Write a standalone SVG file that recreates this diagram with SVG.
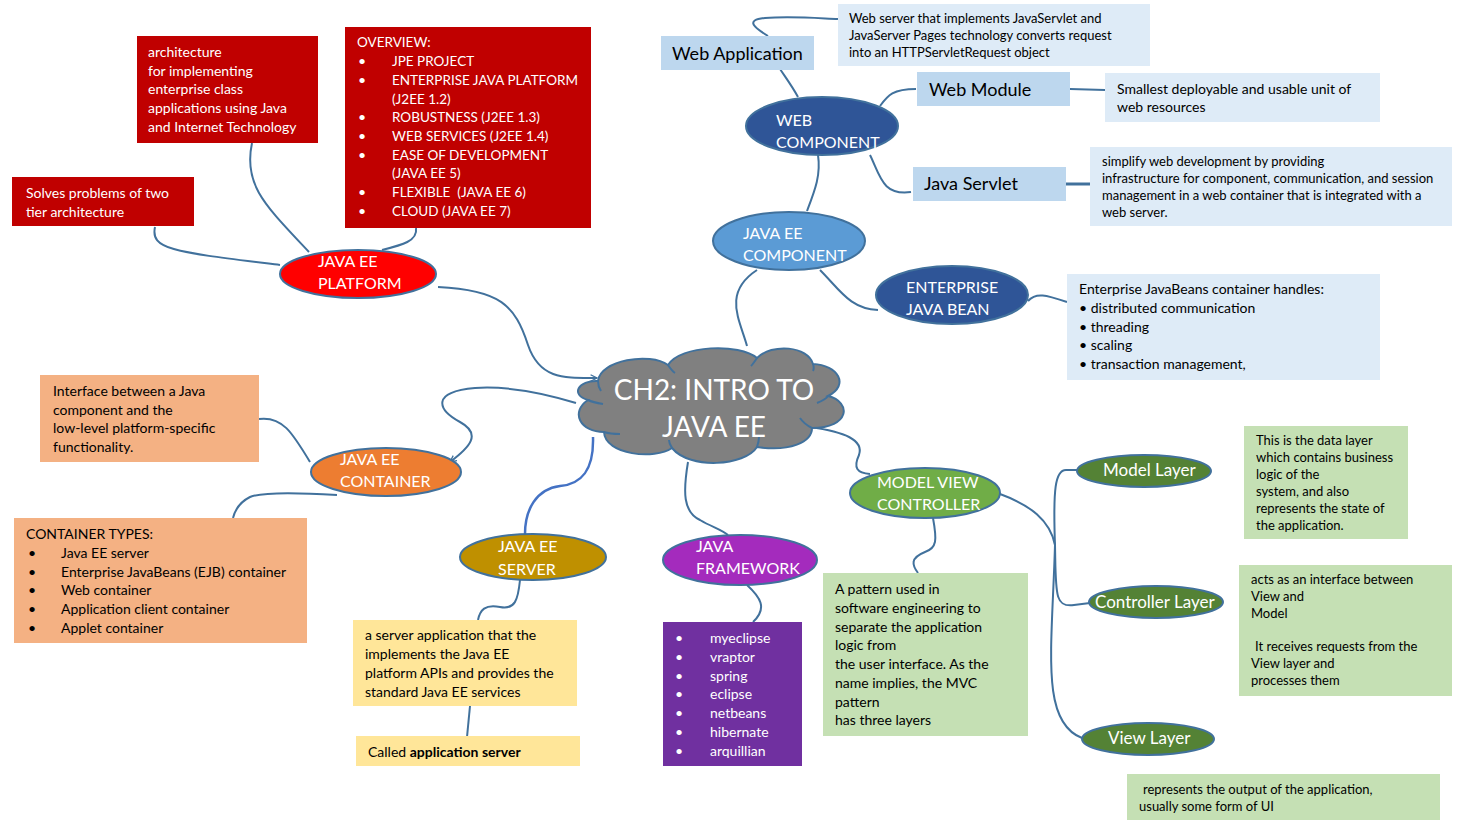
<svg xmlns="http://www.w3.org/2000/svg" width="1457" height="833" viewBox="0 0 1457 833">
<defs>
<style>
text{font-family:Lato,"Liberation Sans",sans-serif;}
.w{fill:#ffffff}
.k{fill:#000000}
.t13{font-size:13px}
.t14{font-size:14px}
.c14{font-size:13.5px}
.t17{font-size:17px}
.e16{font-size:16px}
.t18{font-size:18px}
.ell{stroke:#41719c;stroke-width:2}
.con{fill:none;stroke:#41719c;stroke-width:2}
</style>
<marker id="arr" viewBox="0 0 10 10" refX="9" refY="5" markerWidth="8" markerHeight="8" orient="auto" markerUnits="userSpaceOnUse">
<path d="M1,1 L9,5 L1,9" fill="none" stroke="#41719c" stroke-width="1.6"/>
</marker>
</defs>
<rect width="1457" height="833" fill="#ffffff"/>

<g id="connectors">
<path class="con" d="M155,227 C150,250 175,252 280,265"/>
<path class="con" d="M252,143 C243,185 265,205 309,252"/>
<path class="con" d="M416,228 C418,241 402,245 382,250"/>
<path class="con" d="M438,287 C500,290 515,305 528,345 C540,380 565,378 597,378" marker-end="url(#arr)"/>
<path class="con" d="M576,403 C540,392 505,386 475,388 C430,392 438,410 460,422 C482,434 470,447 450,462" marker-end="url(#arr)"/>
<path class="con" d="M259,419 C282,416 292,432 310,462"/>
<path class="con" d="M337,495 C290,492 262,492 250,497 C240,502 235,510 233,518"/>
<path fill="none" stroke="#4472c4" stroke-width="2.5" d="M593,437 C594,470 582,484 560,486 C536,489 525,510 525,534"/>
<path class="con" d="M520,580 C518,600 515,610 500,607 C485,604 480,610 478,620"/>
<path class="con" d="M470,706 L467,737"/>
<path class="con" d="M688,462 C683,492 683,512 700,520 C712,527 722,530 728,535"/>
<path class="con" d="M747,585 C760,597 768,608 753,622"/>
<path class="con" d="M810,427 C845,432 864,440 859,455 C853,468 857,473 870,474"/>
<path class="con" d="M747,346 C740,320 722,293 757,270"/>
<path class="con" d="M820,270 C840,290 850,309 878,310"/>
<path class="con" d="M1028,301 C1036,292 1046,295 1067,302"/>
<path class="con" d="M807,211 C815,190 821,175 818,155"/>
<path class="con" d="M798,97 C792,86 786,78 780,69"/>
<path class="con" d="M768,36 C755,28 744,20 765,18 C790,16 815,18 838,19"/>
<path class="con" d="M880,106 C888,95 893,89 916,89"/>
<path class="con" d="M1070,89 L1105,90"/>
<path class="con" d="M870,155 C880,175 882,196 911,192"/>
<path fill="none" stroke="#41719c" stroke-width="3" d="M1066,184 L1090,184"/>
<path class="con" d="M933,518 C937,540 937,548 925,552 C910,558 912,565 918,573"/>
<path class="con" d="M1000,494 C1030,505 1050,520 1055,545"/>
<path class="con" d="M1055,545 C1053,490 1055,470 1066,470 L1078,470"/>
<path class="con" d="M1055,545 C1056,592 1054,608 1074,605 L1090,603"/>
<path class="con" d="M1055,545 C1052,650 1040,722 1082,738"/>
</g>

<g id="architecture">
<rect x="137" y="36" width="181" height="107" fill="#c00000"/>
<text class="w t14"><tspan x="148" y="57">architecture</tspan><tspan x="148" y="76">for implementing</tspan><tspan x="148" y="94">enterprise class</tspan><tspan x="148" y="113">applications using Java</tspan><tspan x="148" y="132">and Internet Technology</tspan></text>
</g>

<g id="overview">
<rect x="345" y="27" width="246" height="201" fill="#c00000"/>
<text class="w c14"><tspan x="357" y="47">OVERVIEW:</tspan></text>
<text class="w t14"><tspan x="358" y="66">•</tspan><tspan x="358" y="85">•</tspan><tspan x="358" y="122">•</tspan><tspan x="358" y="141">•</tspan><tspan x="358" y="160">•</tspan><tspan x="358" y="197">•</tspan><tspan x="358" y="216">•</tspan></text>
<text class="w c14"><tspan x="392" y="66">JPE PROJECT</tspan><tspan x="392" y="85">ENTERPRISE JAVA PLATFORM</tspan><tspan x="392" y="104">(J2EE 1.2)</tspan><tspan x="392" y="122">ROBUSTNESS (J2EE 1.3)</tspan><tspan x="392" y="141">WEB SERVICES (J2EE 1.4)</tspan><tspan x="392" y="160">EASE OF DEVELOPMENT</tspan><tspan x="392" y="178">(JAVA EE 5)</tspan><tspan x="392" y="197" xml:space="preserve">FLEXIBLE  (JAVA EE 6)</tspan><tspan x="392" y="216">CLOUD (JAVA EE 7)</tspan></text>
</g>

<g id="solves">
<rect x="12" y="177" width="182" height="49" fill="#c00000"/>
<text class="w t14"><tspan x="26" y="198">Solves problems of two</tspan><tspan x="26" y="217">tier architecture</tspan></text>
</g>

<g id="java-ee-platform">
<ellipse class="ell" cx="358" cy="274" rx="78" ry="24" fill="#ff0000"/>
<text class="w e16"><tspan x="318" y="267">JAVA EE</tspan><tspan x="318" y="289">PLATFORM</tspan></text>
</g>

<g id="web-application">
<rect x="661" y="36" width="153" height="34" fill="#bdd7ee"/>
<text class="k t18" x="672" y="60">Web Application</text>
</g>

<g id="web-server-desc">
<rect x="838" y="4" width="312" height="62" fill="#deebf7"/>
<text class="k t13"><tspan x="849" y="23">Web server that implements JavaServlet and</tspan><tspan x="849" y="40">JavaServer Pages technology converts request</tspan><tspan x="849" y="57">into an HTTPServletRequest object</tspan></text>
</g>

<g id="web-component">
<ellipse class="ell" cx="822" cy="126" rx="76" ry="29" fill="#2f5597"/>
<text class="w e16"><tspan x="776" y="126">WEB</tspan><tspan x="776" y="148">COMPONENT</tspan></text>
</g>

<g id="web-module">
<rect x="917" y="72" width="153" height="34" fill="#bdd7ee"/>
<text class="k t18" x="929" y="96">Web Module</text>
</g>

<g id="web-module-desc">
<rect x="1105" y="73" width="275" height="49" fill="#deebf7"/>
<text class="k t14"><tspan x="1117" y="94">Smallest deployable and usable unit of</tspan><tspan x="1117" y="112">web resources</tspan></text>
</g>

<g id="java-servlet">
<rect x="913" y="167" width="153" height="34" fill="#bdd7ee"/>
<text class="k t18" x="924" y="190">Java Servlet</text>
</g>

<g id="servlet-desc">
<rect x="1090" y="147" width="362" height="79" fill="#deebf7"/>
<text class="k t13"><tspan x="1102" y="166">simplify web development by providing</tspan><tspan x="1102" y="183">infrastructure for component, communication, and session</tspan><tspan x="1102" y="200">management in a web container that is integrated with a</tspan><tspan x="1102" y="217">web server.</tspan></text>
</g>

<g id="java-ee-component">
<ellipse class="ell" cx="789" cy="241" rx="76" ry="29" fill="#5b9bd5"/>
<text class="w e16"><tspan x="743" y="239">JAVA EE</tspan><tspan x="743" y="261">COMPONENT</tspan></text>
</g>

<g id="enterprise-java-bean">
<ellipse class="ell" cx="952" cy="295" rx="76" ry="29" fill="#2f5597"/>
<text class="w e16"><tspan x="906" y="293">ENTERPRISE</tspan><tspan x="906" y="315">JAVA BEAN</tspan></text>
</g>

<g id="ejb-desc">
<rect x="1067" y="274" width="313" height="106" fill="#deebf7"/>
<text class="k t14"><tspan x="1079" y="294">Enterprise JavaBeans container handles:</tspan><tspan x="1079" y="313">• distributed communication</tspan><tspan x="1079" y="332">• threading</tspan><tspan x="1079" y="350">• scaling</tspan><tspan x="1079" y="369">• transaction management,</tspan></text>
</g>

<g id="ch2-intro">
<path d="M598,381 C600,360 650,352 668,365 C680,345 740,343 757,358 C772,343 808,346 813,364 C838,365 850,385 828,396 C852,402 850,428 812,428 C812,442 790,452 757,447 C745,466 690,470 672,448 C655,460 605,455 604,432 C580,432 570,412 588,400 C570,395 578,380 598,381 Z" fill="#808080" stroke="#41719c" stroke-width="2"/>
<path d="M598,381 C598,385 599,388 601,391 M668,365 C670,368 672,371 675,373 M757,358 C755,361 753,364 751,366 M813,364 C814,367 814,369 813,371 M828,396 C826,399 822,401 817,403 M812,428 C806,425 802,421 800,418 M757,447 C758,444 759,440 759,437 M672,448 C670,445 669,442 669,440 M604,432 C610,434 616,434 620,434 M588,400 C592,402 597,403 603,404" fill="none" stroke="#41719c" stroke-width="2"/>
<text class="w" font-size="28" text-anchor="middle"><tspan x="714" y="400">CH2: INTRO TO</tspan><tspan x="714" y="437">JAVA EE</tspan></text>
</g>

<g id="interface-desc">
<rect x="40" y="375" width="219" height="87" fill="#f4b183"/>
<text class="k t14"><tspan x="53" y="396">Interface between a Java</tspan><tspan x="53" y="415">component and the</tspan><tspan x="53" y="433">low-level platform-specific</tspan><tspan x="53" y="452">functionality.</tspan></text>
</g>

<g id="java-ee-container">
<ellipse class="ell" cx="386" cy="472" rx="75" ry="24" fill="#ed7d31"/>
<text class="w e16"><tspan x="340" y="465">JAVA EE</tspan><tspan x="340" y="487">CONTAINER</tspan></text>
</g>

<g id="container-types">
<rect x="14" y="518" width="293" height="125" fill="#f4b183"/>
<text class="k t14"><tspan x="26" y="539">CONTAINER TYPES:</tspan></text>
<text class="k t14"><tspan x="28" y="558">•</tspan><tspan x="28" y="577">•</tspan><tspan x="28" y="595">•</tspan><tspan x="28" y="614">•</tspan><tspan x="28" y="633">•</tspan></text>
<text class="k t14"><tspan x="61" y="558">Java EE server</tspan><tspan x="61" y="577">Enterprise JavaBeans (EJB) container</tspan><tspan x="61" y="595">Web container</tspan><tspan x="61" y="614">Application client container</tspan><tspan x="61" y="633">Applet container</tspan></text>
</g>

<g id="java-ee-server">
<ellipse class="ell" cx="533" cy="557" rx="73" ry="23" fill="#bf9000"/>
<text class="w e16"><tspan x="498" y="552">JAVA EE</tspan><tspan x="498" y="575">SERVER</tspan></text>
</g>

<g id="server-desc">
<rect x="353" y="620" width="224" height="86" fill="#ffe699"/>
<text class="k t14"><tspan x="365" y="640">a server application that the</tspan><tspan x="365" y="659">implements the Java EE</tspan><tspan x="365" y="678">platform APIs and provides the</tspan><tspan x="365" y="697">standard Java EE services</tspan></text>
</g>

<g id="called-app-server">
<rect x="356" y="736" width="224" height="30" fill="#ffe699"/>
<text class="k t14" x="368" y="757">Called <tspan font-weight="bold">application server</tspan></text>
</g>

<g id="java-framework">
<ellipse class="ell" cx="740" cy="560" rx="77" ry="25" fill="#a42bbd"/>
<text class="w e16"><tspan x="696" y="552">JAVA</tspan><tspan x="696" y="574">FRAMEWORK</tspan></text>
</g>

<g id="framework-list">
<rect x="663" y="622" width="139" height="144" fill="#7030a0"/>
<text class="w t14"><tspan x="675" y="643">•</tspan><tspan x="675" y="662">•</tspan><tspan x="675" y="681">•</tspan><tspan x="675" y="699">•</tspan><tspan x="675" y="718">•</tspan><tspan x="675" y="737">•</tspan><tspan x="675" y="756">•</tspan></text>
<text class="w t14"><tspan x="710" y="643">myeclipse</tspan><tspan x="710" y="662">vraptor</tspan><tspan x="710" y="681">spring</tspan><tspan x="710" y="699">eclipse</tspan><tspan x="710" y="718">netbeans</tspan><tspan x="710" y="737">hibernate</tspan><tspan x="710" y="756">arquillian</tspan></text>
</g>

<g id="model-view-controller">
<ellipse class="ell" cx="925" cy="493" rx="75" ry="25" fill="#70ad47"/>
<text class="w e16"><tspan x="877" y="488">MODEL VIEW</tspan><tspan x="877" y="510">CONTROLLER</tspan></text>
</g>

<g id="mvc-desc">
<rect x="823" y="573" width="205" height="163" fill="#c5e0b4"/>
<text class="k t14"><tspan x="835" y="594">A pattern used in</tspan><tspan x="835" y="613">software engineering to</tspan><tspan x="835" y="632">separate the application</tspan><tspan x="835" y="650">logic from</tspan><tspan x="835" y="669">the user interface. As the</tspan><tspan x="835" y="688">name implies, the MVC</tspan><tspan x="835" y="707">pattern</tspan><tspan x="835" y="725">has three layers</tspan></text>
</g>

<g id="model-layer">
<ellipse class="ell" cx="1144" cy="471" rx="67" ry="16" fill="#548235"/>
<text class="w t17" x="1103" y="476">Model Layer</text>
</g>

<g id="model-desc">
<rect x="1244" y="426" width="164" height="113" fill="#c5e0b4"/>
<text class="k t13"><tspan x="1256" y="445">This is the data layer</tspan><tspan x="1256" y="462">which contains business</tspan><tspan x="1256" y="479">logic of the</tspan><tspan x="1256" y="496">system, and also</tspan><tspan x="1256" y="513">represents the state of</tspan><tspan x="1256" y="530">the application.</tspan></text>
</g>

<g id="controller-layer">
<ellipse class="ell" cx="1156" cy="602" rx="67" ry="16" fill="#548235"/>
<text class="w t17" x="1095" y="608">Controller Layer</text>
</g>

<g id="controller-desc">
<rect x="1239" y="565" width="213" height="131" fill="#c5e0b4"/>
<text class="k t13"><tspan x="1251" y="584">acts as an interface between</tspan><tspan x="1251" y="601">View and</tspan><tspan x="1251" y="618">Model</tspan><tspan x="1255" y="651">It receives requests from the</tspan><tspan x="1251" y="668">View layer and</tspan><tspan x="1251" y="685">processes them</tspan></text>
</g>

<g id="view-layer">
<ellipse class="ell" cx="1148" cy="739" rx="66" ry="16" fill="#548235"/>
<text class="w t17" x="1108" y="744">View Layer</text>
</g>

<g id="view-desc">
<rect x="1127" y="774" width="313" height="46" fill="#c5e0b4"/>
<text class="k t13"><tspan x="1143" y="794">represents the output of the application,</tspan><tspan x="1139" y="811">usually some form of UI</tspan></text>
</g>
</svg>
